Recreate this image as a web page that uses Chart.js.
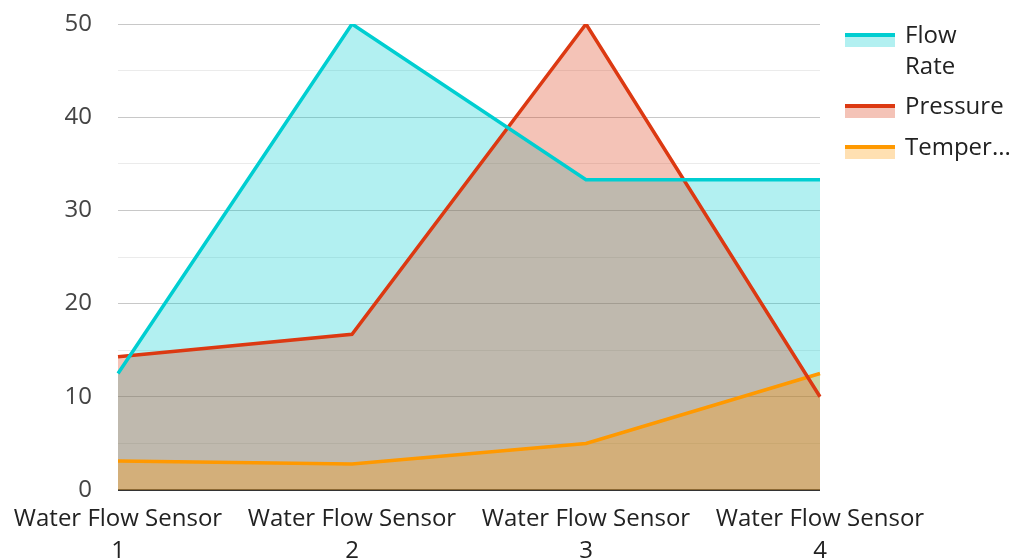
<!DOCTYPE html>
<html><head><meta charset="utf-8">
<script src="https://cdn.jsdelivr.net/npm/chart.js@4/dist/chart.umd.min.js"></script>
<style>html,body{margin:0;padding:0;background:#fff;}#wrap{width:1010px;height:560px;position:relative;}</style>
</head><body><div id="wrap"><canvas id="c" width="1010" height="560"></canvas></div>
<script>
const categories = [["Water Flow Sensor","1"],["Water Flow Sensor","2"],["Water Flow Sensor","3"],["Water Flow Sensor","4"]];
const flowRate = [12.5, 50, 33.3, 33.3];
const pressure = [14.3, 16.7, 50, 10];
const temperature = [3.1, 2.8, 5, 12.5];
const seriesNames = ["Flow Rate", "Pressure", "Temperature"];
const legendLabels = [["Flow","Rate"], ["Pressure"], ["Temper..."]];
const yTicks = [0, 10, 20, 30, 40, 50];

const colors = ["rgb(0,206,209)", "rgb(220,57,18)", "rgb(255,153,0)"];
const fills = ["rgba(0,206,209,0.3)", "rgba(220,57,18,0.3)", "rgba(255,153,0,0.3)"];
const FONT = "'Open Sans', 'Noto Sans', sans-serif";

const legendPlugin = {
  id: 'customLegend',
  afterDraw(chart) {
    const ctx = chart.ctx;
    ctx.save();
    ctx.font = "24px " + FONT;
    ctx.textBaseline = 'middle';
    const x0 = 845, tx = 905;
    const centers = [36, 107, 148];
    legendLabels.forEach((lines, i) => {
      const c = centers[i];
      ctx.fillStyle = fills[i];
      ctx.fillRect(x0, c - 3, 50, 14);
      ctx.fillStyle = colors[i];
      ctx.fillRect(x0, c - 3, 50, 4);
      ctx.fillStyle = '#222';
      lines.forEach((t, j) => ctx.fillText(t, tx, c + j * 31));
    });
    ctx.restore();
  }
};

const series = [flowRate, pressure, temperature];
// area datasets: drawn first-to-last (flow, pressure, temperature)
const areaSets = series.map((data, i) => ({
  label: seriesNames[i] + ' area', data,
  borderColor: 'rgba(0,0,0,0)', backgroundColor: fills[i],
  borderWidth: 0, pointRadius: 0, tension: 0, fill: 'origin', order: 13 - i
}));
// line datasets: first series ends up on top
const lineSets = series.map((data, i) => ({
  label: seriesNames[i], data,
  borderColor: colors[i], backgroundColor: fills[i],
  borderWidth: 3.5, pointRadius: 0, tension: 0, fill: false, order: 1 + i
}));

new Chart(document.getElementById('c'), {
  type: 'line',
  data: { labels: categories, datasets: [...lineSets, ...areaSets] },
  plugins: [legendPlugin],
  options: {
    responsive: false, animation: false,
    layout: { padding: { top: 24, right: 190, left: 0, bottom: 0 } },
    plugins: { legend: { display: false }, tooltip: { enabled: false }, filler: { drawTime: 'beforeDatasetsDraw' } },
    scales: {
      x: {
        offset: false,
        afterFit(s) { s.height = 70; s.paddingLeft = 0; s.paddingRight = 0; },
        grid: { display: false },
        border: { display: false },
        ticks: { color: '#222', font: { family: FONT, size: 24, lineHeight: 1.3 }, maxRotation: 0, autoSkip: false, padding: 6 }
      },
      y: {
        min: 0, max: 50,
        afterFit(s) { s.width = 118; s.paddingTop = 0; s.paddingBottom = 0; },
        afterBuildTicks(s) { s.ticks = []; for (let v = 0; v <= 50; v += 5) s.ticks.push({ value: v }); },
        border: { display: false },
        grid: {
          drawTicks: false,
          color: c => c.tick.value === 0 ? '#333' : (yTicks.includes(c.tick.value) ? '#c8c8c8' : '#ebebeb'),
          lineWidth: c => c.tick.value === 0 ? 2 : 1
        },
        ticks: {
          color: '#444', padding: 26,
          font: { family: FONT, size: 24 },
          callback: v => yTicks.includes(v) ? String(v) : ''
        }
      }
    }
  }
});
</script></body></html>
